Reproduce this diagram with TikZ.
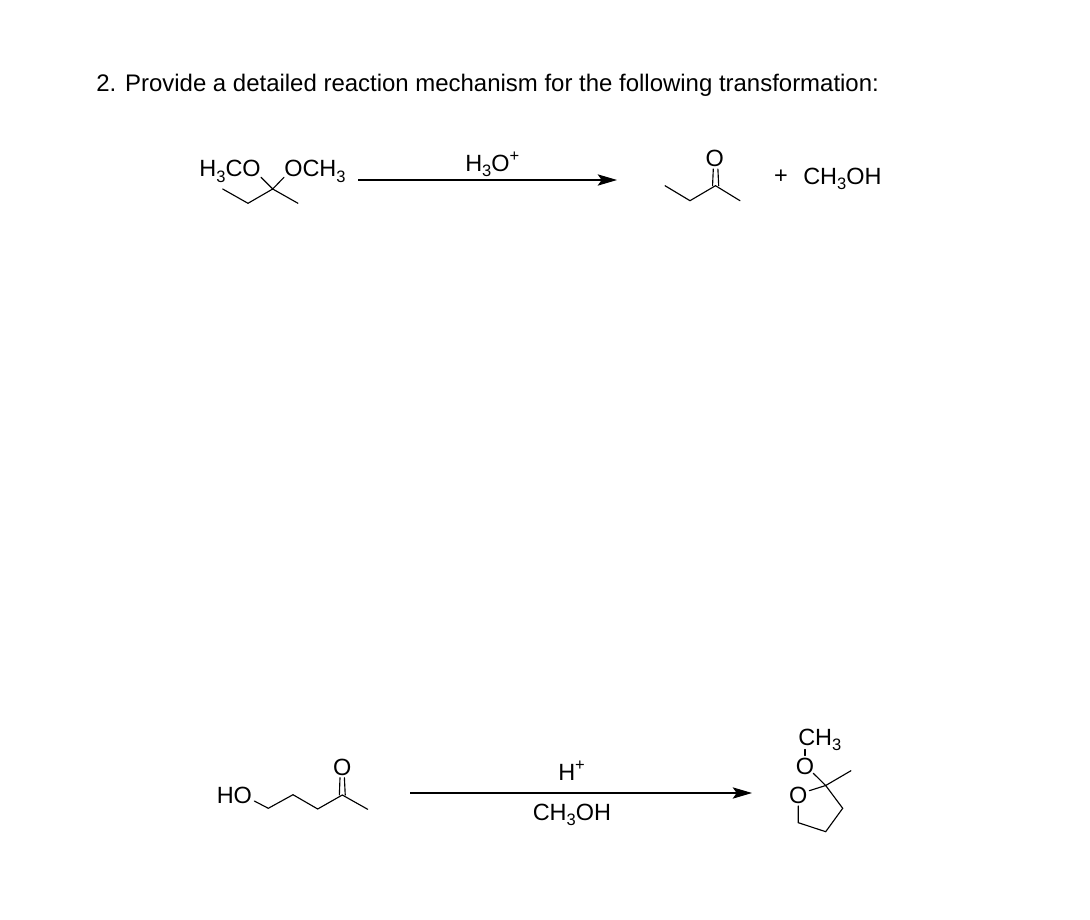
\documentclass[tikz,border=0pt]{standalone}
\usepackage{fontspec}
\setmainfont{Liberation Sans}
\usetikzlibrary{arrows.meta}
\newcommand{\lowthree}{\raisebox{-0.22em}{\fontsize{12.4pt}{14pt}\selectfont 3}}
\newcommand{\upplus}{\raisebox{0.42em}{\fontsize{12.4pt}{14pt}\selectfont +}}
\tikzset{
  bond/.style={line width=0.85pt,line cap=round,black},
  rxn/.style={line width=0.8pt,black,-{Stealth[length=14.5pt,width=8.5pt,inset=3pt]}},
  chem/.style={font=\fontsize{17.6pt}{20pt}\selectfont,inner sep=0pt,text=black},
  title/.style={font=\fontsize{17.97pt}{20pt}\selectfont,inner sep=0pt,anchor=base west,text=black}
}
\begin{document}
\begin{tikzpicture}[x=0.75pt,y=-0.75pt]
\useasboundingbox (0,0) rectangle (1090,920);
\fill[white] (0,0) rectangle (1090,920);
\node[title] (t) at (96,92) {2. Provide a detailed reaction mechanism for the following transformation:};
% molecule 1
\node[chem,anchor=base east] (m1l) at (261,177) {H\lowthree CO};
\node[chem,anchor=base west] (m1r) at (284,177) {OCH\lowthree};
\coordinate (a1) at (222.7,189);\coordinate (a2) at (248,203.3);\coordinate (a3) at (272.7,189);\coordinate (a4) at (298,203.3);\coordinate (ol) at (261,177.3);\coordinate (or) at (284,177.3);
\draw[bond] (a1)--(a2)--(a3)--(a4);\draw[bond] (ol)--(a3)--(or);
% arrow 1
\coordinate (r1s) at (358,180);\coordinate (r1e) at (617,180);
\draw[rxn] (r1s)--(r1e);
\node[chem,anchor=base west] (h3o) at (465,171.5) {H\lowthree O\upplus};
% molecule 2
\node[chem] (o2) at (714.7,158.7) {O};
\coordinate (b1) at (665,185.7);\coordinate (b2) at (690,200.7);\coordinate (b3) at (715.5,185.7);\coordinate (b4) at (740,200.7);
\coordinate (b5) at (713.3,169);\coordinate (b6) at (717.9,169);
\draw[bond] (b1)--(b2)--(b3)--(b4);
\draw[bond] ([xshift=-2.2]b3)--(b5);\draw[bond] ([xshift=2.4]b3)--(b6);
\node[chem,anchor=base west] (p) at (803,184.5) {CH\lowthree OH};
\node[chem] (plus) at (781,177) {+};
% molecule 3
\node[chem,anchor=base west] (ho) at (216.5,803) {HO};
\coordinate (c1) at (254.3,801);\coordinate (c2) at (268.3,808.3);\coordinate (c3) at (293,794.7);\coordinate (c4) at (317.7,809);\coordinate (c5) at (342.3,795);\coordinate (c6) at (367.7,809.3);
\coordinate (c7) at (340,777.7);\coordinate (c8) at (344.4,777.7);
\draw[bond] (c1)--(c2)--(c3)--(c4)--(c5)--(c6);
\node[chem] (o3) at (342.3,767) {O};
\draw[bond] ([xshift=-2.2]c5)--(c7);\draw[bond] ([xshift=2.2]c5)--(c8);
% arrow 2
\coordinate (r2s) at (410,793);\coordinate (r2e) at (752,793);
\draw[rxn] (r2s)--(r2e);
\node[chem,anchor=base west] (hp) at (558,780) {H\upplus};
\node[chem,anchor=base west] (meoh) at (532.5,820) {CH\lowthree OH};
% molecule 4
\node[chem,anchor=base west] (ch3) at (798,745.5) {CH\lowthree};
\node[chem] (ot) at (805,766) {O};
\node[chem] (or4) at (798.3,795) {O};
\coordinate (d0) at (825.7,785.5);\coordinate (d1) at (851,770.7);\coordinate (d2) at (842.7,808.3);\coordinate (d3) at (825.7,831.7);\coordinate (d4) at (798.3,822.7);
\coordinate (ob1) at (813.3,773.3);\coordinate (ob2) at (809.3,790.7);\coordinate (ob3) at (798.3,806);
\coordinate (mb1) at (805,749.5);\coordinate (mb2) at (805,755.5);
\draw[bond] (mb1)--(mb2);
\draw[bond] (ob1)--(d0)--(d1);\draw[bond] (ob2)--(d0)--(d2)--(d3)--(d4)--(ob3);
\end{tikzpicture}
\end{document}
